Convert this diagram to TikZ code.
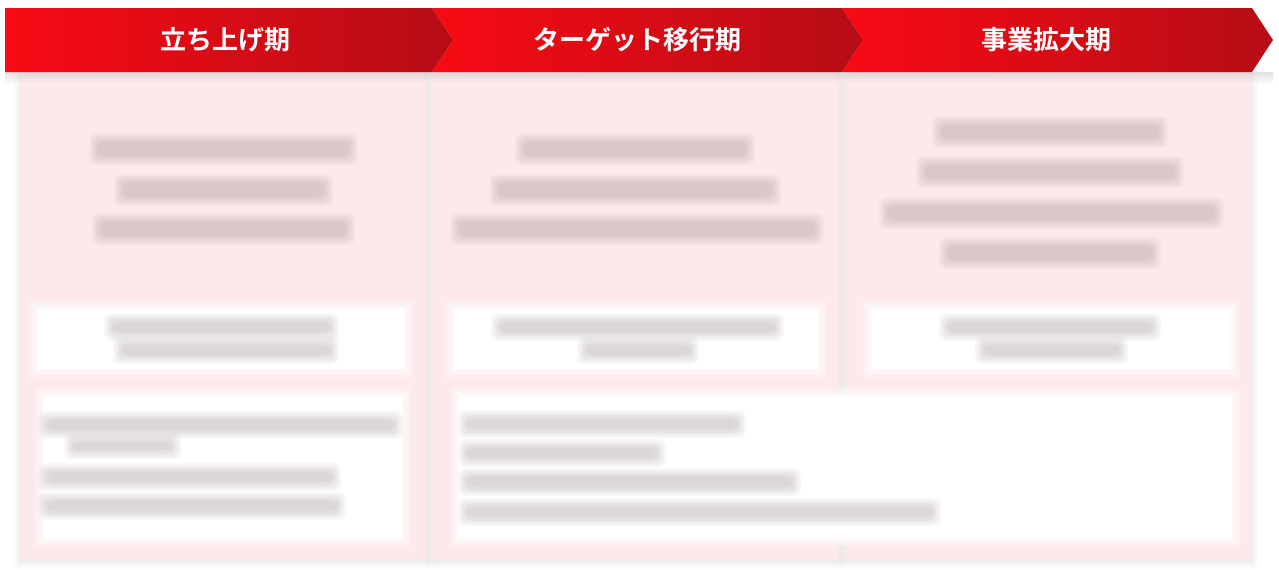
\documentclass[tikz,border=0pt]{standalone}
\usepackage{fontspec}
\newfontfamily\jpbold{Noto Sans CJK JP Bold}
\usetikzlibrary{shadows.blur}

\definecolor{phasered}{RGB}{248,10,20}
\definecolor{phasedark}{RGB}{181,13,22}
\definecolor{panelpink}{RGB}{253,232,234}
\definecolor{blurgray}{RGB}{150,130,136}

\tikzset{every picture/.style={line width=0.75pt}}
\tikzset{
  phase/.style={left color=phasered, right color=phasedark},
  phaselabel/.style={text=white, font=\jpbold\fontsize{19.5}{22}\selectfont, inner sep=0.75pt},
  panel/.style={fill=panelpink, blur shadow={shadow blur steps=10, shadow xshift=0pt, shadow yshift=-1.5pt, shadow opacity=12, shadow blur radius=6pt}},
}

% blurred line of text: x1, x2, y, half height
\newcommand{\blurline}[4]{%
  \foreach \k in {6,...,1}
    \fill[blurgray, opacity=0.06, rounded corners=5pt] (#1-\k*1.8, #3-#4-\k*1.8) rectangle (#2+\k*1.8, #3+#4+\k*1.8);
}
% white card with soft edge: x1, y1, x2, y2
\newcommand{\softcard}[4]{%
  \foreach \k in {6,...,1}
    \fill[white, opacity=0.2] (#1-\k*1.5, #2-\k*1.5) rectangle (#3+\k*1.5, #4+\k*1.5);
  \fill[white] (#1,#2) rectangle (#3,#4);
}

\begin{document}
\begin{tikzpicture}[x=0.75pt,y=0.75pt,yscale=-1,xscale=1]
        \useasboundingbox (0,0) rectangle (1279,569);

        %Panels
        \fill[panel] (20,72) rectangle (427,560);
        \fill[panel] (432,72) rectangle (840,560);
        \fill[panel] (845,72) rectangle (1252,560);
        %shadow below header
        \shade[top color=black!25, bottom color=panelpink, opacity=0.45] (5,72) rectangle (1273,82);

        %Header chevrons
        \shade[phase] (842,8) -- (1252,8) -- (1273,40) -- (1252,72) -- (842,72) -- (863,40) -- cycle ;
        \shade[phase] (432,8) -- (842,8) -- (863,40) -- (842,72) -- (432,72) -- (453,40) -- cycle ;
        \shade[phase] (5,8) -- (432,8) -- (453,40) -- (432,72) -- (5,72) -- cycle ;

        % Text Node
        \node[phaselabel] (phase1) at (225,40) {立ち上げ期};
        % Text Node
        \node[phaselabel] (phase2) at (637,40) {ターゲット移行期};
        % Text Node
        \node[phaselabel] (phase3) at (1046,40) {事業拡大期};

        %Upper text, column 1
        \blurline{100}{347}{149}{5}
        \blurline{125}{322}{190}{5}
        \blurline{103}{344}{229}{5}
        %Upper text, column 2
        \blurline{526}{744}{149}{5}
        \blurline{500}{770}{190}{5}
        \blurline{461}{813}{229}{5}
        %Upper text, column 3
        \blurline{943}{1157}{132}{5}
        \blurline{927}{1173}{172}{5}
        \blurline{890}{1213}{213}{5}
        \blurline{950}{1150}{253}{5}

        %Middle cards
        \softcard{38}{309}{405}{369}
        \softcard{454}{309}{818}{369}
        \softcard{871}{309}{1231}{369}
        \blurline{115}{328}{327}{3}
        \blurline{124}{328}{350}{3}
        \blurline{502}{773}{327}{3}
        \blurline{588}{688}{350}{3}
        \blurline{950}{1150}{327}{3}
        \blurline{986}{1117}{350}{3}

        %Lower cards
        \softcard{43}{396}{402}{538}
        \softcard{458}{396}{1232}{538}
        \blurline{49}{392}{425}{3}
        \blurline{75}{170}{446}{2}
        \blurline{49}{330}{477}{3}
        \blurline{49}{335}{506}{3}
        \blurline{469}{735}{424}{3}
        \blurline{469}{655}{453}{3}
        \blurline{469}{790}{482}{3}
        \blurline{469}{930}{512}{3}
\end{tikzpicture}
\end{document}
